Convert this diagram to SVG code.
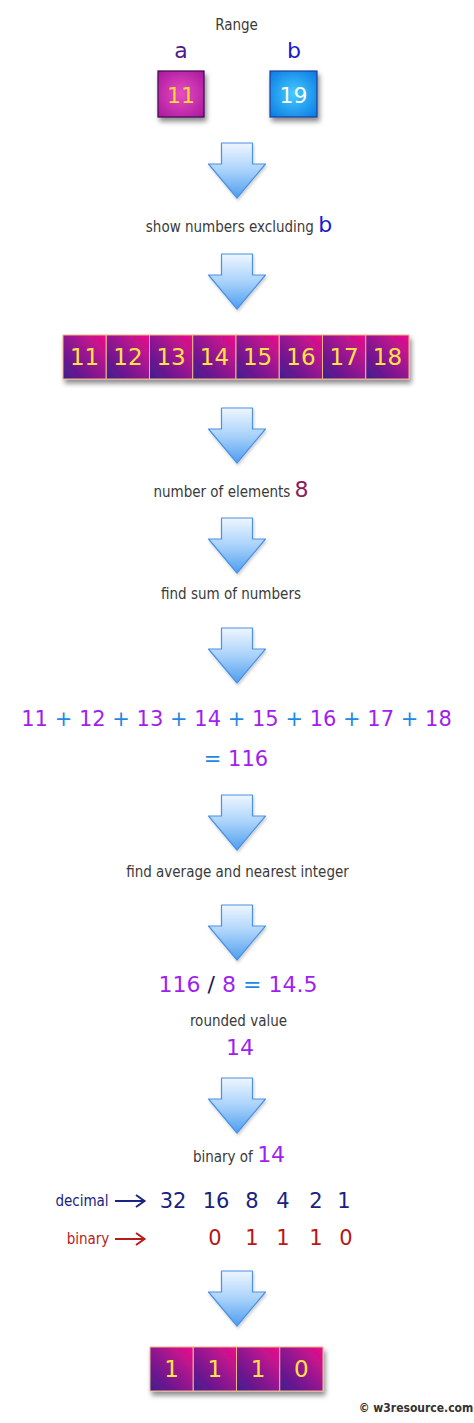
<svg xmlns="http://www.w3.org/2000/svg" xmlns:xlink="http://www.w3.org/1999/xlink" width="474" height="1423" viewBox="0 0 474 1423">
<style>
.lbl{font-family:"DejaVu Sans Condensed","Liberation Sans",sans-serif;font-size:15px;fill:#3a3a3a;text-anchor:middle}
.num{font-family:"DejaVu Sans",Verdana,sans-serif;text-anchor:middle}
.cell{fill:url(#cellGrad);stroke:#f2b58a;stroke-width:1}
.cellTxt{font-family:"DejaVu Sans",Verdana,sans-serif;font-size:23px;fill:#ffe24a;text-anchor:middle}
.pur{fill:#a01ff0}
.blu{fill:#1e88e5}
.dec{font-family:"DejaVu Sans",Verdana,sans-serif;font-size:21px;fill:#1a1f80;text-anchor:middle}
.bin{font-family:"DejaVu Sans",Verdana,sans-serif;font-size:21px;fill:#b71818;text-anchor:middle}
</style>
<defs>
<linearGradient id="cellGrad" x1="0" y1="1" x2="1" y2="0">
<stop offset="0" stop-color="#3f1c8e"/>
<stop offset="0.55" stop-color="#9a1590"/>
<stop offset="1" stop-color="#ee0f8a"/>
</linearGradient>
<radialGradient id="aGrad" cx="0.5" cy="0.5" r="0.7">
<stop offset="0" stop-color="#e84cc0"/>
<stop offset="1" stop-color="#a8189e"/>
</radialGradient>
<radialGradient id="bGrad" cx="0.5" cy="0.5" r="0.7">
<stop offset="0" stop-color="#46ccff"/>
<stop offset="1" stop-color="#0a78e2"/>
</radialGradient>
<linearGradient id="arrGrad" x1="0" y1="0" x2="0" y2="1">
<stop offset="0" stop-color="#eef6ff"/>
<stop offset="0.5" stop-color="#a9d2fa"/>
<stop offset="1" stop-color="#4f9ef0"/>
</linearGradient>
<filter id="sh" x="-20%" y="-20%" width="150%" height="160%">
<feDropShadow dx="2" dy="4" stdDeviation="2.5" flood-color="#000" flood-opacity="0.45"/>
</filter>
<filter id="ash" x="-20%" y="-20%" width="150%" height="150%">
<feDropShadow dx="1" dy="2" stdDeviation="1.5" flood-color="#000" flood-opacity="0.2"/>
</filter>
<g id="arrow">
<path d="M-15.5,0 H15.5 V21 H28.5 L0,55 L-28.5,21 H-15.5 Z" fill="url(#arrGrad)" stroke="#4a92e6" stroke-width="1.2" stroke-linejoin="round" filter="url(#ash)"/>
</g>
</defs>
<rect width="474" height="1423" fill="#ffffff"/>

<g id="connectors">
<use xlink:href="#arrow" x="237" y="143"/>
<use xlink:href="#arrow" x="237" y="254"/>
<use xlink:href="#arrow" x="237" y="408"/>
<use xlink:href="#arrow" x="237" y="518"/>
<use xlink:href="#arrow" x="237" y="628"/>
<use xlink:href="#arrow" x="237" y="795"/>
<use xlink:href="#arrow" x="237" y="905"/>
<use xlink:href="#arrow" x="237" y="1078"/>
<use xlink:href="#arrow" x="237" y="1271"/>
</g>

<g id="range">
<text class="lbl" x="236.5" y="30">Range</text>
</g>

<g id="boxA">
<text class="num" x="181" y="58" font-size="22" fill="#4b1d8f">a</text>
<rect x="158" y="71" width="46" height="46" fill="url(#aGrad)" stroke="#3d0a50" stroke-width="1.2" filter="url(#sh)"/>
<text class="num" x="181" y="103" font-size="22" fill="#ffd740">11</text>
</g>

<g id="boxB">
<text class="num" x="294" y="58" font-size="22" fill="#1a1ad0">b</text>
<rect x="270" y="71" width="47" height="46" fill="url(#bGrad)" stroke="#1e3c9c" stroke-width="1.2" filter="url(#sh)"/>
<text class="num" x="293.5" y="103" font-size="22" fill="#ffffff">19</text>
</g>

<g id="showNumbers">
<text class="lbl" x="239" y="232">show numbers excluding <tspan font-family="DejaVu Sans,sans-serif" font-size="22" fill="#1a1ad0">b</tspan></text>
</g>

<g id="strip1">
<g filter="url(#sh)">
<rect class="cell" x="63" y="335" width="43.25" height="44"/>
<rect class="cell" x="106.25" y="335" width="43.25" height="44"/>
<rect class="cell" x="149.5" y="335" width="43.25" height="44"/>
<rect class="cell" x="192.75" y="335" width="43.25" height="44"/>
<rect class="cell" x="236" y="335" width="43.25" height="44"/>
<rect class="cell" x="279.25" y="335" width="43.25" height="44"/>
<rect class="cell" x="322.5" y="335" width="43.25" height="44"/>
<rect class="cell" x="365.75" y="335" width="43.25" height="44"/>
</g>
<text class="cellTxt" x="84.6" y="365">11</text>
<text class="cellTxt" x="127.9" y="365">12</text>
<text class="cellTxt" x="171.1" y="365">13</text>
<text class="cellTxt" x="214.4" y="365">14</text>
<text class="cellTxt" x="257.6" y="365">15</text>
<text class="cellTxt" x="300.9" y="365">16</text>
<text class="cellTxt" x="344.1" y="365">17</text>
<text class="cellTxt" x="387.4" y="365">18</text>
</g>

<g id="countElements">
<text class="lbl" x="231" y="497">number of elements <tspan font-family="DejaVu Sans,sans-serif" font-size="22" fill="#8b1a5a">8</tspan></text>
</g>

<g id="findSum">
<text class="lbl" x="231" y="599">find sum of numbers</text>
</g>

<g id="sumExpr">
<text class="num" x="236.5" y="726" font-size="21"><tspan class="pur">11</tspan><tspan class="blu"> + </tspan><tspan class="pur">12</tspan><tspan class="blu"> + </tspan><tspan class="pur">13</tspan><tspan class="blu"> + </tspan><tspan class="pur">14</tspan><tspan class="blu"> + </tspan><tspan class="pur">15</tspan><tspan class="blu"> + </tspan><tspan class="pur">16</tspan><tspan class="blu"> + </tspan><tspan class="pur">17</tspan><tspan class="blu"> + </tspan><tspan class="pur">18</tspan></text>
<text class="num" x="236" y="766" font-size="21"><tspan class="blu">= </tspan><tspan class="pur">116</tspan></text>
</g>

<g id="findAverage">
<text class="lbl" x="237.5" y="877">find average and nearest integer</text>
</g>

<g id="avgExpr">
<text class="num" x="238" y="992" font-size="22"><tspan class="pur">116</tspan><tspan fill="#1a1a5e"> / </tspan><tspan class="pur">8</tspan><tspan class="blu"> = </tspan><tspan class="pur">14.5</tspan></text>
<text class="lbl" x="238.5" y="1026">rounded value</text>
<text class="num pur" x="240" y="1055" font-size="22">14</text>
</g>

<g id="binaryOf">
<text class="lbl" x="239" y="1162">binary of <tspan font-family="DejaVu Sans,sans-serif" font-size="22" fill="#a01ff0">14</tspan></text>
</g>

<g id="binaryTable">
<text class="lbl" x="82" y="1206" style="fill:#1a237e">decimal</text>
<path d="M115,1201 H144 M136,1195 L144.5,1201 L136,1207" fill="none" stroke="#1a237e" stroke-width="2"/>
<text class="dec" x="173" y="1208">32</text>
<text class="dec" x="216" y="1208">16</text>
<text class="dec" x="252" y="1208">8</text>
<text class="dec" x="283" y="1208">4</text>
<text class="dec" x="316" y="1208">2</text>
<text class="dec" x="344" y="1208">1</text>
<text class="lbl" x="88" y="1244" style="fill:#b71c1c">binary</text>
<path d="M115,1239 H144 M136,1233 L144.5,1239 L136,1245" fill="none" stroke="#b71c1c" stroke-width="2"/>
<text class="bin" x="215" y="1245">0</text>
<text class="bin" x="252" y="1245">1</text>
<text class="bin" x="283" y="1245">1</text>
<text class="bin" x="316" y="1245">1</text>
<text class="bin" x="346" y="1245">0</text>
</g>

<g id="strip2">
<g filter="url(#sh)">
<rect class="cell" x="150" y="1347" width="43.25" height="44"/>
<rect class="cell" x="193.25" y="1347" width="43.25" height="44"/>
<rect class="cell" x="236.5" y="1347" width="43.25" height="44"/>
<rect class="cell" x="279.75" y="1347" width="43.25" height="44"/>
</g>
<text class="cellTxt" x="171.6" y="1377">1</text>
<text class="cellTxt" x="214.9" y="1377">1</text>
<text class="cellTxt" x="258.1" y="1377">1</text>
<text class="cellTxt" x="301.4" y="1377">0</text>
</g>

<g id="credit">
<text x="416" y="1412" font-family="DejaVu Sans Condensed,Liberation Sans,sans-serif" font-size="12" font-weight="bold" fill="#333" text-anchor="middle">© w3resource.com</text>
</g>
</svg>
